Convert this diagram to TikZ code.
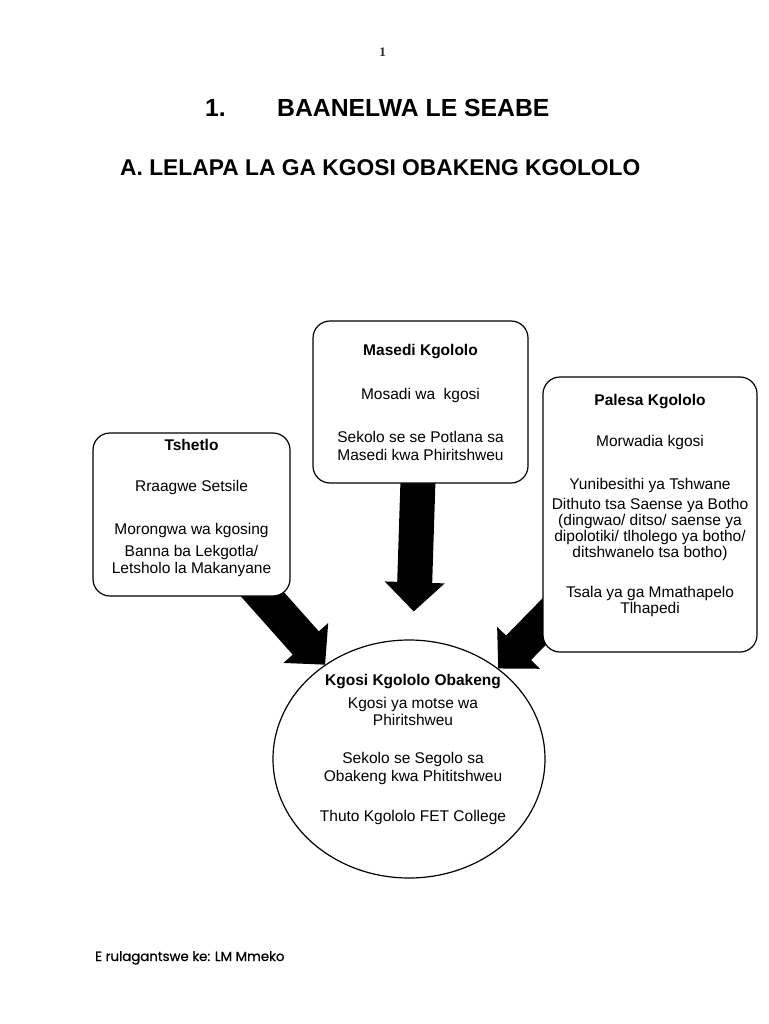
\documentclass[tikz,border=0pt]{standalone}
\usepackage{fontspec}
\setmainfont{Liberation Sans}
\newfontfamily\pnfont{Liberation Serif}
\newfontfamily\footfont[FakeBold=0.7]{Poppins}
\usetikzlibrary{shapes.geometric,calc,backgrounds}
% block arrow: #1 start coordinate, #2 tip coordinate
\newcommand{\blkarrow}[2]{%
  \coordinate (#2-b) at ($(#2)!29pt!(#1)$);
  \fill[black] ($(#1)!17.5pt!90:(#2)$) -- ($(#2-b)!17.5pt!90:(#2)$)
     -- ($(#2-b)!30pt!90:(#2)$) -- (#2) -- ($(#2-b)!30pt!-90:(#2)$)
     -- ($(#2-b)!17.5pt!-90:(#2)$) -- ($(#1)!17.5pt!-90:(#2)$) -- cycle;}
\begin{document}
\begin{tikzpicture}[x=1pt,y=-1pt,
  box/.style={draw, line width=1.2pt, rounded corners=17pt, fill=white, inner sep=0pt},
  oval/.style={ellipse, draw, line width=1.2pt, fill=white, inner sep=0pt},
  txt/.style={align=center, inner sep=0pt, font=\fontsize{15.5}{17.5}\selectfont},
  tightxt/.style={align=center, inner sep=0pt, font=\fontsize{15.5}{16}\selectfont},
  headtxt/.style={align=center, inner sep=0pt, font=\fontsize{15.5}{17}\selectfont\bfseries},
]
\useasboundingbox (0,0) rectangle (768,1024);

% page header
\node[inner sep=0pt, text=black!85, font=\pnfont\fontsize{13}{14}\selectfont\bfseries] (pnum) at (382.5,52) {1};
\node[anchor=base west, inner sep=0pt, font=\fontsize{24.75}{28}\selectfont\bfseries] (tnum) at (205,117) {1.};
\node[anchor=base west, inner sep=0pt, font=\fontsize{24.75}{28}\selectfont\bfseries] (title) at (277,117) {BAANELWA LE SEABE};
\node[anchor=base west, inner sep=0pt, font=\fontsize{22.8}{26}\selectfont\bfseries] (subtitle) at (120,176) {A. LELAPA LA GA KGOSI OBAKENG KGOLOLO};

% boxes
\node[box, minimum width=197pt, minimum height=163pt] (tsh) at (191.5,514.5) {};
\node[box, minimum width=215pt, minimum height=162pt] (mas) at (420.5,402) {};
\node[box, minimum width=214pt, minimum height=275pt] (pal) at (650,514.5) {};
\node[oval, minimum width=272pt, minimum height=238pt] (keg) at (409,759) {};

% block arrows behind boxes and ellipse
\begin{scope}[on background layer]
\path (tsh) -- coordinate[pos=-0.25] (aLs) coordinate[pos=1] (aLt) (keg);
\path (mas) -- coordinate[pos=-0.15] (aMs) coordinate[pos=0.82] (aMt) (keg);
\path (pal) -- coordinate[pos=-0.4] (aRs) coordinate[pos=1] (aRt) (keg);
\blkarrow{aLs}{aLt}
\blkarrow{aMs}{aMt}
\blkarrow{aRs}{aRt}
\end{scope}

% Tshetlo texts
\node[headtxt] (tsh1) at (191.5,445) {Tshetlo};
\node[txt] (tsh2) at (191.5,487) {Rraagwe Setsile};
\node[txt] (tsh3) at (191.5,530) {Morongwa wa kgosing};
\node[txt] (tsh4) at (191.5,561) {Banna ba Lekgotla/\\Letsholo la Makanyane};

% Masedi texts
\node[headtxt] (mas1) at (420.5,352) {Masedi Kgololo};
\node[txt] (mas2) at (420.5,395) {Mosadi wa \ kgosi};
\node[txt] (mas3) at (420.5,446) {Sekolo se se Potlana sa\\Masedi kwa Phiritshweu};

% Palesa texts
\node[headtxt] (pal1) at (650,402) {Palesa Kgololo};
\node[txt] (pal2) at (650,442) {Morwadia kgosi};
\node[txt] (pal3) at (650,485) {Yunibesithi ya Tshwane};
\node[tightxt] (pal4) at (650,529) {Dithuto tsa Saense ya Botho\\(dingwao/ ditso/ saense ya\\dipolotiki/ tlholego ya botho/\\ditshwanelo tsa botho)};
\node[tightxt] (pal5) at (650,601) {Tsala ya ga Mmathapelo\\Tlhapedi};

% Kgosi texts
\node[headtxt] (keg1) at (413,682) {Kgosi Kgololo Obakeng};
\node[txt] (keg2) at (413,711.5) {Kgosi ya motse wa\\Phiritshweu};
\node[txt] (keg3) at (413,768.5) {Sekolo se Segolo sa\\Obakeng kwa Phititshweu};
\node[txt] (keg4) at (413,817) {Thuto Kgololo FET College};

% footer
\node[anchor=base west, inner sep=0pt, font=\footfont\fontsize{13.3}{15}\selectfont] (foot) at (95,961) {E rulagantswe ke: LM Mmeko};
\end{tikzpicture}
\end{document}
